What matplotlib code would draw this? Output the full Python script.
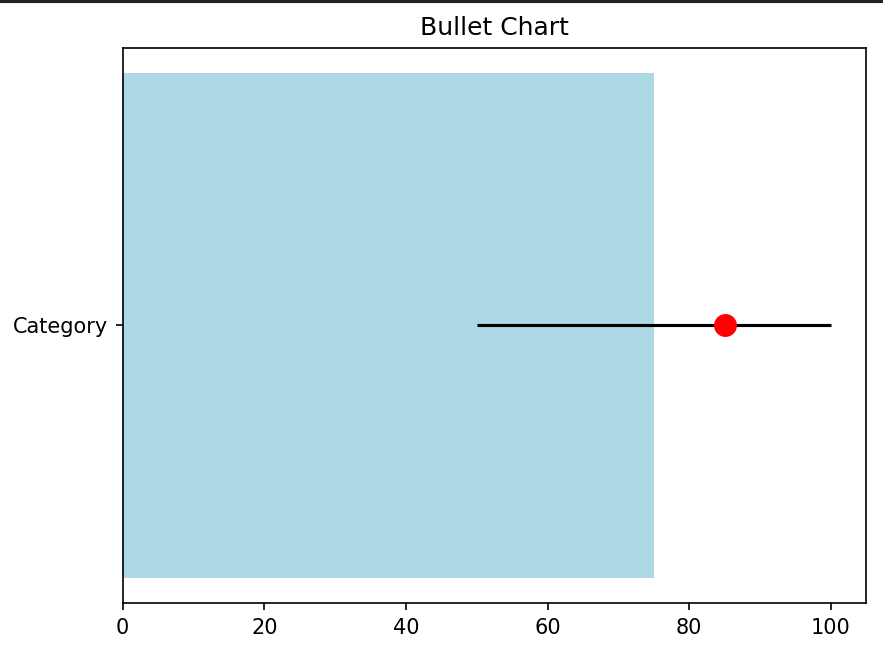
import matplotlib
matplotlib.use("Agg")
import matplotlib.pyplot as plt

categories = ["Category"]
actual = [75]
range_low = [50]
range_high = [100]
target = [85]

DPI = 150
fig = plt.figure(figsize=(883 / DPI, 654 / DPI), dpi=DPI)
ax = fig.add_axes([0.139, 0.078, 0.842, 0.849])

ax.barh(categories, actual, color="lightblue")
ax.hlines(categories, range_low, range_high, color="black", linewidth=1.5)
ax.plot(target, categories, "o", color="red", markersize=10)
ax.set_title("Bullet Chart")

fig.add_artist(plt.Line2D([0, 1], [0.998, 0.998], color="#222222", linewidth=1.5, transform=fig.transFigure))

fig.savefig("out.png", dpi=DPI)
